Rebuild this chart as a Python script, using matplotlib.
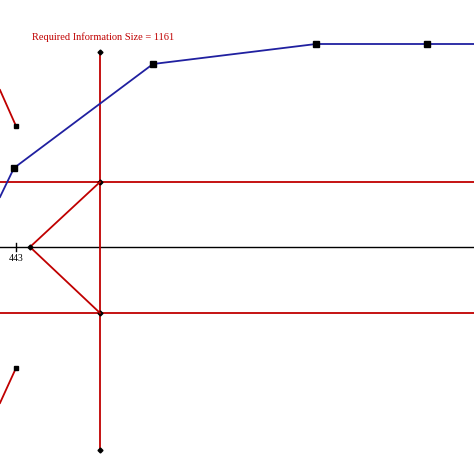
import matplotlib
matplotlib.use("Agg")
import matplotlib.pyplot as plt

# z-curve (blue) in chart coordinates (x: patients, y: z-score-like scale in px units)
z_x = [0, 14, 153, 316, 427, 474]
z_y = [197, 168, 64, 44, 44, 44]
z_mark_x = [14, 153, 316, 427]
z_mark_y = [168, 64, 44, 44]
# upper / lower monitoring boundaries (red) fragments
up_x = [0, 16]; up_y = [90, 126]
lo_x = [0, 16]; lo_y = [403, 368]
# futility wedge
fut_x = [100, 30, 100]; fut_y = [182, 247, 313]
ris_x = 100
conv_upper = 182; conv_lower = 313; zero = 247

fig = plt.figure(figsize=(4.74, 4.74), dpi=100)
ax = fig.add_axes([0, 0, 1, 1])
ax.set_xlim(0, 474); ax.set_ylim(474, 0); ax.axis('off')
red = '#c00000'
ax.axhline(conv_upper, color=red, lw=1.3)
ax.axhline(conv_lower, color=red, lw=1.3)
ax.axhline(zero, color='black', lw=1)
ax.plot([ris_x, ris_x], [52, 450], color=red, lw=1.3)
ax.plot([ris_x]*4, [52, 182, 313, 450], 'D', color='black', ms=2.5)
ax.plot(fut_x, fut_y, color=red, lw=1.3)
ax.plot(up_x, up_y, color=red, lw=1.3)
ax.plot(lo_x, lo_y, color=red, lw=1.3)
ax.plot([16], [126], 's', color='black', ms=2.5)
ax.plot([16], [368], 's', color='black', ms=2.5)
ax.plot(z_x, z_y, color='#2020a0', lw=1.3)
ax.plot(z_mark_x, z_mark_y, 's', color='black', ms=4)
ax.plot([30], [247], 'D', color='black', ms=2.5)
ax.plot([16, 16], [243, 251], color='black', lw=1)
ax.text(16, 254, '443', ha='center', va='top', fontsize=7, family='Liberation Serif')
ax.text(32, 37, 'Required Information Size = 1161', color=red, fontsize=7.5,
        family='Liberation Serif', va='center', ha='left')
fig.savefig('out.png', dpi=100)
